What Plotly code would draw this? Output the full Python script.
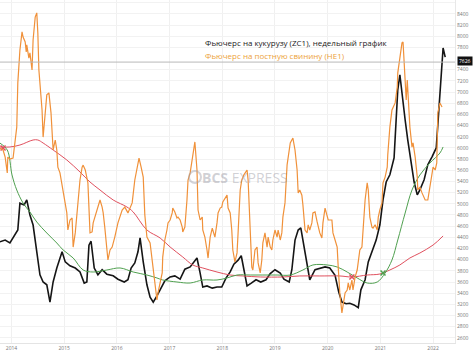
import pandas as pd
import plotly.graph_objects as go

# ---- Corn futures ZC1 (weekly, closes) ----
corn_t = [2013.78, 2013.88, 2013.97, 2014.03, 2014.12, 2014.16, 2014.24, 2014.29, 2014.35, 2014.41,
          2014.48, 2014.54, 2014.60, 2014.67, 2014.73, 2014.79, 2014.86, 2014.96, 2015.02, 2015.11,
          2015.21, 2015.30, 2015.38, 2015.43, 2015.47, 2015.51, 2015.57, 2015.64, 2015.72, 2015.81,
          2015.93, 2016.02, 2016.14, 2016.21, 2016.27, 2016.34, 2016.40, 2016.44, 2016.50, 2016.57,
          2016.63, 2016.69, 2016.76, 2016.84, 2016.91, 2017.01, 2017.10, 2017.20, 2017.29, 2017.39,
          2017.46, 2017.52, 2017.58, 2017.63, 2017.71, 2017.81, 2017.90, 2017.99, 2018.07, 2018.15,
          2018.22, 2018.30, 2018.36, 2018.41, 2018.47, 2018.55, 2018.64, 2018.73, 2018.83, 2018.91,
          2019.00, 2019.10, 2019.17, 2019.27, 2019.32, 2019.38, 2019.44, 2019.49, 2019.55, 2019.61,
          2019.66, 2019.76, 2019.85, 2019.95, 2020.04, 2020.14, 2020.21, 2020.27, 2020.35, 2020.42,
          2020.50, 2020.58, 2020.63, 2020.71, 2020.77, 2020.84, 2020.92, 2020.99, 2021.05, 2021.11,
          2021.18, 2021.26, 2021.30, 2021.33, 2021.37, 2021.41, 2021.47, 2021.52, 2021.58, 2021.64,
          2021.70, 2021.75, 2021.83, 2021.90, 2021.98, 2022.06, 2022.09, 2022.13, 2022.17, 2022.19,
          2022.23]
corn_v = [4320, 4350, 4300, 4390, 4530, 5010, 4980, 5070, 4800, 4620,
          4170, 3730, 3600, 3550, 3240, 3600, 3850, 4140, 3960, 3890,
          3850, 3780, 3580, 3600, 4260, 4330, 3850, 3730, 3820, 3740,
          3710, 3650, 3600, 3640, 3850, 3940, 4140, 4390, 3960, 3550,
          3330, 3240, 3350, 3510, 3620, 3690, 3710, 3650, 3830, 3870,
          3960, 4030, 3760, 3510, 3530, 3490, 3510, 3510, 3670, 3780,
          3920, 3990, 4070, 3850, 3530, 3580, 3640, 3600, 3640, 3750,
          3820, 3760, 3650, 3600, 3820, 4350, 4530, 4570, 4260, 3900,
          3640, 3820, 3850, 3870, 3850, 3720, 3420, 3240, 3210, 3220,
          3190, 3140, 3460, 3640, 3960, 4140, 4350, 4620, 5070, 5390,
          5520, 5820, 6410, 7040, 7310, 6950, 6500, 6140, 5780, 5390,
          5160, 5250, 5430, 5700, 5840, 6000, 6410, 6950, 7490, 7790,
          7626]

# ---- Lean hog futures HE1 ----
hog_t = [2013.78, 2013.84, 2013.88, 2013.92, 2013.93, 2013.97, 2014.03, 2014.07, 2014.10, 2014.12,
         2014.16, 2014.20, 2014.22, 2014.26, 2014.28, 2014.29, 2014.33, 2014.35, 2014.39, 2014.41,
         2014.43, 2014.45, 2014.48, 2014.50, 2014.52, 2014.54, 2014.58, 2014.60, 2014.64, 2014.67,
         2014.71, 2014.75, 2014.79, 2014.83, 2014.86, 2014.88, 2014.92, 2014.98, 2015.05, 2015.07,
         2015.11, 2015.15, 2015.17, 2015.21, 2015.26, 2015.30, 2015.34, 2015.36, 2015.40, 2015.43,
         2015.45, 2015.49, 2015.53, 2015.55, 2015.62, 2015.68, 2015.72, 2015.74, 2015.77, 2015.81,
         2015.83, 2015.87, 2015.91, 2015.96, 2016.02, 2016.10, 2016.15, 2016.21, 2016.29, 2016.34,
         2016.38, 2016.42, 2016.46, 2016.50, 2016.53, 2016.57, 2016.63, 2016.69, 2016.72, 2016.76,
         2016.78, 2016.82, 2016.86, 2016.87, 2016.91, 2016.95, 2016.97, 2017.01, 2017.05, 2017.06,
         2017.10, 2017.14, 2017.16, 2017.20, 2017.24, 2017.25, 2017.29, 2017.33, 2017.35, 2017.39,
         2017.44, 2017.48, 2017.52, 2017.54, 2017.58, 2017.62, 2017.63, 2017.67, 2017.71, 2017.73,
         2017.77, 2017.81, 2017.82, 2017.86, 2017.90, 2017.92, 2017.96, 2017.99, 2018.01, 2018.05,
         2018.09, 2018.11, 2018.15, 2018.18, 2018.20, 2018.24, 2018.28, 2018.30, 2018.34, 2018.37,
         2018.41, 2018.47, 2018.49, 2018.53, 2018.56, 2018.58, 2018.62, 2018.66, 2018.68, 2018.72,
         2018.75, 2018.77, 2018.81, 2018.85, 2018.87, 2018.91, 2018.94, 2018.96, 2019.00, 2019.04,
         2019.06, 2019.10, 2019.13, 2019.15, 2019.19, 2019.23, 2019.29, 2019.34, 2019.38, 2019.42,
         2019.44, 2019.47, 2019.51, 2019.53, 2019.57, 2019.61, 2019.63, 2019.66, 2019.70, 2019.72,
         2019.76, 2019.80, 2019.82, 2019.85, 2019.89, 2019.91, 2019.95, 2019.99, 2020.01, 2020.08,
         2020.10, 2020.14, 2020.18, 2020.20, 2020.23, 2020.27, 2020.29, 2020.33, 2020.37, 2020.39,
         2020.42, 2020.46, 2020.48, 2020.52, 2020.56, 2020.58, 2020.61, 2020.65, 2020.67, 2020.71,
         2020.75, 2020.77, 2020.80, 2020.84, 2020.86, 2020.90, 2020.94, 2020.96, 2020.99, 2021.03,
         2021.05, 2021.09, 2021.13, 2021.14, 2021.18, 2021.22, 2021.28, 2021.32, 2021.33, 2021.37,
         2021.41, 2021.43, 2021.45, 2021.49, 2021.51, 2021.54, 2021.56, 2021.60, 2021.62, 2021.66,
         2021.70, 2021.71, 2021.75, 2021.79, 2021.85, 2021.90, 2021.94, 2021.98, 2022.00, 2022.04,
         2022.07, 2022.09, 2022.13, 2022.17]
hog_v = [91.1, 90.5, 88.3, 83.4, 88.3, 87.7, 88.0, 92.7, 97.6, 111.3,
         121.5, 127.1, 125.5, 124.0, 120.9, 123.1, 119.0, 120.6, 115.3, 124.6,
         128.6, 131.7, 133.0, 126.8, 115.3, 111.3, 102.9, 94.5, 102.0, 107.6,
         108.2, 102.0, 90.5, 93.6, 90.5, 85.2, 83.4, 78.1, 71.0, 65.7,
         68.8, 69.4, 60.4, 64.8, 74.1, 81.2, 85.2, 85.8, 84.3, 81.2,
         80.3, 64.8, 65.1, 67.9, 71.9, 75.0, 72.8, 71.0, 66.6, 60.4,
         56.4, 59.5, 60.4, 63.5, 67.9, 71.9, 72.8, 71.0, 74.1, 81.2,
         85.2, 88.0, 85.2, 82.1, 70.4, 63.5, 61.7, 54.2, 49.3, 44.0,
         46.2, 49.3, 52.4, 57.3, 62.6, 65.7, 67.9, 68.8, 71.0, 72.5,
         71.3, 69.4, 69.7, 68.8, 66.6, 65.1, 66.6, 75.0, 81.2, 83.4,
         88.3, 93.0, 84.3, 71.9, 68.8, 69.7, 65.7, 63.5, 59.5, 57.0,
         63.5, 66.3, 65.7, 63.5, 67.9, 71.0, 72.5, 72.8, 74.4, 75.6,
         76.5, 72.5, 71.0, 65.7, 59.5, 55.8, 58.6, 64.8, 78.1, 81.2,
         82.8, 84.3, 81.2, 65.7, 54.2, 53.3, 59.5, 60.4, 55.5, 52.4,
         56.4, 61.7, 64.8, 60.4, 63.5, 60.4, 59.5, 62.6, 65.7, 63.5,
         65.7, 62.6, 64.8, 69.7, 74.1, 85.9, 92.7, 94.2, 90.5, 84.3,
         77.2, 78.1, 76.5, 73.5, 65.7, 64.8, 67.3, 65.7, 67.9, 71.0,
         71.3, 68.2, 66.6, 64.8, 63.2, 67.9, 72.5, 69.7, 68.8, 68.8,
         64.8, 62.6, 60.4, 54.2, 46.2, 40.0, 41.8, 46.2, 47.1, 49.3,
         47.1, 50.2, 47.1, 51.1, 53.3, 56.4, 59.5, 60.4, 66.6, 75.0,
         80.3, 78.1, 69.7, 66.6, 66.3, 67.3, 65.7, 69.7, 71.9, 74.1,
         80.3, 82.1, 85.2, 89.0, 97.6, 102.9, 105.1, 110.0, 114.4, 119.3,
         123.7, 124.0, 116.2, 106.0, 112.2, 102.9, 97.6, 91.4, 92.7, 88.3,
         82.1, 78.1, 79.0, 77.2, 75.0, 75.0, 79.0, 84.3, 85.2, 84.3,
         86.5, 102.0, 105.1, 103.8]

# ---- Long moving average (red) ----
ma_long_t = [2013.78, 2013.97, 2014.16, 2014.41, 2014.50, 2014.60, 2014.79, 2015.05, 2015.30, 2015.49,
             2015.68, 2015.93, 2016.19, 2016.31, 2016.57, 2016.82, 2017.01, 2017.25, 2017.44, 2017.63,
             2017.90, 2018.15, 2018.39, 2018.72, 2019.15, 2019.47, 2019.85, 2020.23, 2020.46, 2020.75,
             2020.99, 2021.18, 2021.37, 2021.56, 2021.75, 2022.00, 2022.19]
ma_long_v = [6017, 6017, 6052, 6142, 6142, 6088, 5963, 5784, 5569, 5390,
             5247, 5068, 4943, 4853, 4531, 4388, 4227, 4048, 3905, 3851,
             3779, 3725, 3708, 3690, 3690, 3708, 3708, 3708, 3690, 3725,
             3743, 3815, 3905, 4030, 4119, 4262, 4424]

# ---- Short moving average (green) ----
ma_short_t = [2013.78, 2013.92, 2014.01, 2014.10, 2014.22, 2014.35, 2014.48, 2014.67, 2014.86, 2014.98,
              2015.17, 2015.36, 2015.55, 2015.81, 2016.06, 2016.31, 2016.57, 2016.76, 2016.87, 2017.14,
              2017.39, 2017.63, 2017.90, 2018.09, 2018.28, 2018.53, 2018.77, 2019.04, 2019.29, 2019.53,
              2019.72, 2019.99, 2020.18, 2020.37, 2020.56, 2020.75, 2020.94, 2021.09, 2021.22, 2021.33,
              2021.47, 2021.60, 2021.75, 2021.94, 2022.13, 2022.19]
ma_short_v = [6088, 5963, 5516, 5247, 5014, 4853, 4674, 4477, 4298, 4173,
              4030, 3815, 3779, 3815, 3851, 3779, 3725, 3672, 3636, 3600,
              3582, 3636, 3636, 3672, 3725, 3725, 3725, 3725, 3725, 3815,
              3905, 3905, 3869, 3779, 3672, 3582, 3600, 3761, 3994, 4352,
              4835, 5247, 5516, 5730, 5909, 6017]

# ---- MA crossing markers ----
cross_red_t = [2013.84, 2020.46]
cross_red_v = [6000, 3690]
cross_green_t = [2021.05]
cross_green_v = [3760]

last_price = 7626
year_ticks = [2014, 2015, 2016, 2017, 2018, 2019, 2020, 2021, 2022]
price_ticks = [2600, 2800, 3000, 3200, 3400, 3600, 3800, 4000, 4200, 4400, 4600, 4800, 5000,
               5200, 5400, 5600, 5800, 6000, 6200, 6400, 6600, 6800, 7000, 7200, 7400,
               7800, 8000, 8200, 8400, 8600]


def to_dates(ts):
    base = pd.Timestamp("2014-01-01")
    return [base + pd.to_timedelta((t - 2014) * 365.25, unit="D") for t in ts]


fig = go.Figure()

fig.add_trace(go.Scatter(x=to_dates(hog_t), y=hog_v, yaxis="y2", mode="lines",
                         line=dict(color="#f0913a", width=1.2), name="HE1"))
fig.add_trace(go.Scatter(x=to_dates(corn_t), y=corn_v, mode="lines",
                         line=dict(color="#151515", width=1.6), name="ZC1"))
fig.add_trace(go.Scatter(x=to_dates(ma_long_t), y=ma_long_v, mode="lines",
                         line=dict(color="#e0505e", width=1, shape="spline"), name="MA long"))
fig.add_trace(go.Scatter(x=to_dates(ma_short_t), y=ma_short_v, mode="lines",
                         line=dict(color="#4fa04f", width=1, shape="spline"), name="MA short"))
fig.add_trace(go.Scatter(x=to_dates(cross_red_t), y=cross_red_v, mode="markers",
                         marker=dict(symbol="x-thin", size=5, line=dict(color="#e0505e", width=1.5)),
                         name="cross down"))
fig.add_trace(go.Scatter(x=to_dates(cross_green_t), y=cross_green_v, mode="markers",
                         marker=dict(symbol="x-thin", size=5, line=dict(color="#4fa04f", width=1.5)),
                         name="cross up"))

x_start = to_dates([2013.782])[0]
x_end = to_dates([2022.416])[0]

fig.update_layout(
    width=474, height=352,
    margin=dict(l=0, r=19, t=0, b=9),
    paper_bgcolor="white", plot_bgcolor="white",
    showlegend=False,
    font=dict(family="Open Sans, Arial, sans-serif"),
    xaxis=dict(
        type="date", range=[x_start, x_end],
        tickvals=to_dates(year_ticks), ticktext=[str(y) for y in year_ticks],
        tickfont=dict(size=5, color="#777"),
        showgrid=True, gridcolor="#f0f0f0", gridwidth=1,
        showline=True, linecolor="#e4e4e4", linewidth=1,
        ticks="", ticklen=0, automargin=False, zeroline=False,
    ),
    yaxis=dict(
        side="right", range=[2508, 8648], tickvals=price_ticks,
        tickfont=dict(size=5, color="#777"),
        showgrid=True, gridcolor="#f2f2f2", gridwidth=1,
        showline=True, linecolor="#e8e8e8", linewidth=1,
        ticks="", automargin=False, zeroline=False,
    ),
    yaxis2=dict(
        overlaying="y", range=[30.67, 137], visible=False, showgrid=False,
    ),
    shapes=[
        dict(type="line", xref="paper", x0=0, x1=1, yref="y", ysizemode="pixel",
             yanchor=last_price, y0=-5, y1=-5,
             line=dict(color="#b8b8b8", width=1)),
        dict(type="circle", xref="paper", yref="paper",
             x0=189 / 455, x1=201 / 455, y0=1 - 183 / 343, y1=1 - 171 / 343,
             line=dict(color="rgba(160,160,170,0.45)", width=2)),
    ],
    annotations=[
        dict(text="Фьючерс на кукурузу (ZC1), недельный график", xref="paper", yref="paper",
             x=203 / 455, y=1 - 42 / 343, xanchor="left", yanchor="middle", showarrow=False,
             font=dict(size=8, color="#222")),
        dict(text="Фьючерс на постную свинину (HE1)", xref="paper", yref="paper",
             x=203 / 455, y=1 - 56 / 343, xanchor="left", yanchor="middle", showarrow=False,
             font=dict(size=8, color="#eda23a")),
        dict(text="<b>BCS</b> EXPRESS", xref="paper", yref="paper",
             x=245 / 455, y=1 - 177 / 343, xanchor="center", yanchor="middle", showarrow=False,
             font=dict(size=14, color="rgba(150,150,160,0.45)")),
        dict(text=str(last_price), xref="paper", yref="y", x=1, y=last_price,
             xanchor="left", yanchor="middle", xshift=2, yshift=-4, showarrow=False,
             bgcolor="#111", borderpad=1, font=dict(size=5, color="white")),
    ],
)

fig.write_html("out.html")
